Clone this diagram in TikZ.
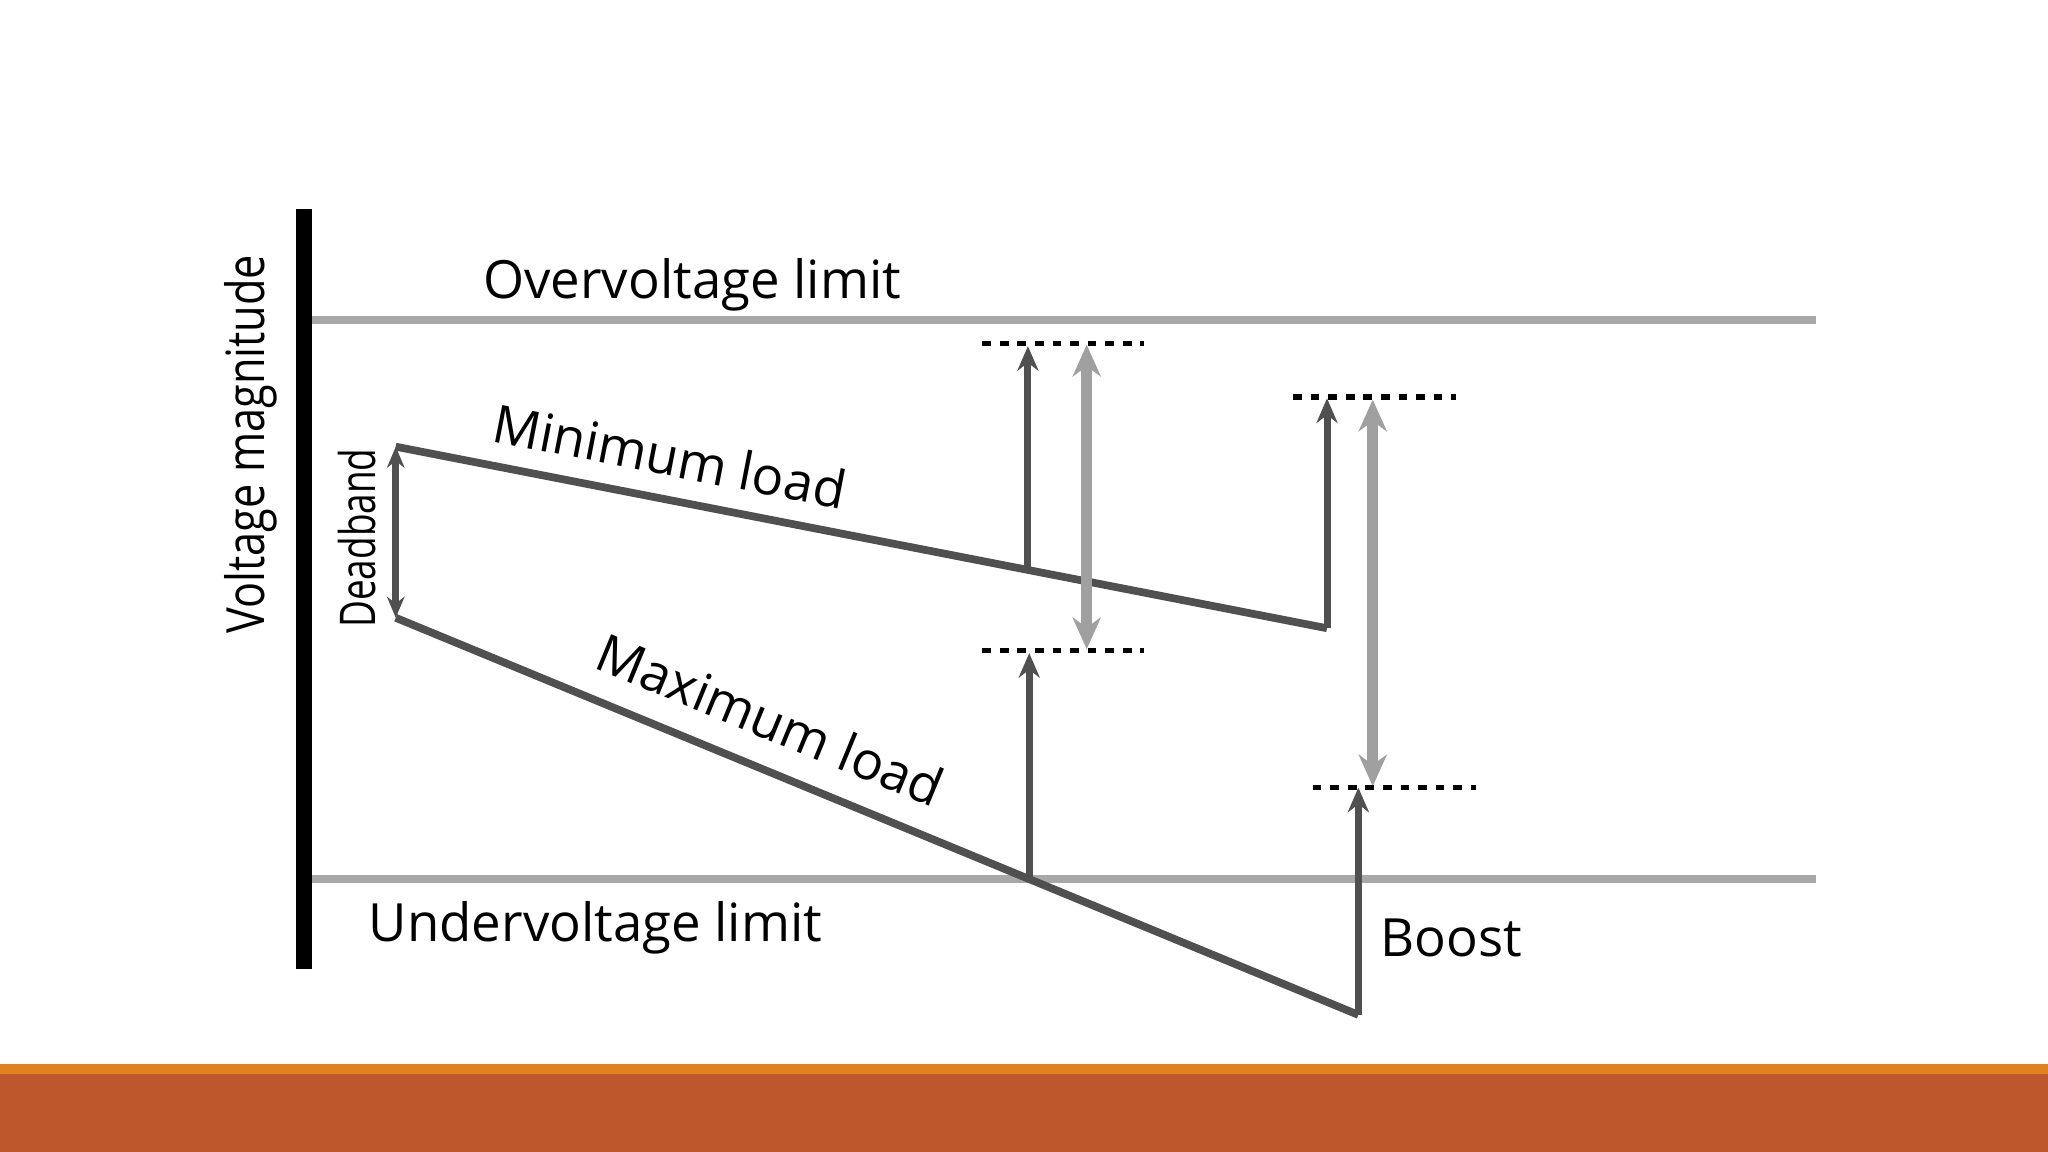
\documentclass[tikz,border=0pt]{standalone}
\usepackage{fontspec}
\setmainfont{Open Sans}
\usetikzlibrary{arrows.meta}
\definecolor{dk}{HTML}{505050}
\definecolor{lg}{HTML}{A0A0A0}
\definecolor{lim}{HTML}{A8A8A8}
\definecolor{org}{HTML}{E0821E}
\definecolor{rust}{HTML}{BE572B}
\tikzset{
 dkline/.style={draw=dk,line width=2.2pt},
 dkarrow/.style={draw=dk,line width=2pt,-{Stealth[length=7pt,width=6pt]}},
 lgarrow/.style={draw=lg,line width=3pt,{Stealth[length=9pt,width=8pt]}-{Stealth[length=9pt,width=8pt]}},
 dots/.style={draw=black,line width=1.5pt,dash pattern=on 2.5pt off 2.5pt},
 limline/.style={draw=lim,line width=2.5pt},
 lbl/.style={font=\fontsize{15}{18}\selectfont,inner sep=0pt},
}
\begin{document}
\begin{tikzpicture}[x=0.01306cm,y=-0.01306cm]
\useasboundingbox (0,0) rectangle (1568,882);
\fill[white] (0,0) rectangle (1568,882);
\fill[org] (0,815) rectangle (1568,823);
\fill[rust] (0,822) rectangle (1568,882);
% limits
\coordinate (ov1) at (238,245); \coordinate (ov2) at (1390,245);
\coordinate (uv1) at (238,673); \coordinate (uv2) at (1390,673);
\draw[limline] (ov1) -- (ov2);
\draw[limline] (uv1) -- (uv2);
\node[lbl] (ovl) at (530,218) {Overvoltage limit};
\node[lbl] (uvl) at (456,710) {Undervoltage limit};
% axis
\coordinate (ax1) at (233,160); \coordinate (ax2) at (233,742);
\draw[line width=4.5pt] (ax1) -- (ax2);
\node[lbl,rotate=90,xscale=0.82] (vm) at (192,340) {Voltage magnitude};
% deadband
\coordinate (d1) at (303,342); \coordinate (d2) at (303,473);
\draw[draw=dk,line width=2pt,{Stealth[length=6pt,width=5pt]}-{Stealth[length=6pt,width=5pt]}] (d1) -- (d2);
\node[lbl,rotate=90,xscale=0.75,font=\fontsize{14}{16}\selectfont] (db) at (273,412) {Deadband};
% minimum load
\coordinate (m1) at (1016,481); \coordinate (m2) at (1016,305);
\draw[dkline] (d1) -- (m1);
\draw[dkarrow] (m1) -- (m2);
\node[lbl,rotate=-11] (mnl) at (513,349) {Minimum load};
% maximum load
\coordinate (x1) at (1040,777); \coordinate (x2) at (1040,603);
\draw[dkline] (d2) -- (x1);
\draw[dkarrow] (x1) -- (x2);
\node[lbl,rotate=-22.4] (mxl) at (590,551) {Maximum load};
% arrows at 787
\coordinate (a1) at (787,437); \coordinate (a2) at (787,265);
\draw[dkarrow] (a1) -- (a2);
\coordinate (b1) at (788,673); \coordinate (b2) at (788,500);
\draw[dkarrow] (b1) -- (b2);
\coordinate (c1) at (832,264); \coordinate (c2) at (832,497);
\draw[lgarrow] (c1) -- (c2);
\coordinate (e1) at (1051,306); \coordinate (e2) at (1051,602);
\draw[lgarrow] (e1) -- (e2);
% dotted
\coordinate (p1) at (752,263); \coordinate (p2) at (876,263);
\coordinate (q1) at (752,498); \coordinate (q2) at (876,498);
\coordinate (r1) at (990,304); \coordinate (r2) at (1115,304);
\coordinate (s1) at (1005,603); \coordinate (s2) at (1130,603);
\draw[dots] (p1) -- (p2);
\draw[dots] (q1) -- (q2);
\draw[dots] (r1) -- (r2);
\draw[dots] (s1) -- (s2);
\node[lbl] (boost) at (1111,718) {Boost};
\end{tikzpicture}
\end{document}
